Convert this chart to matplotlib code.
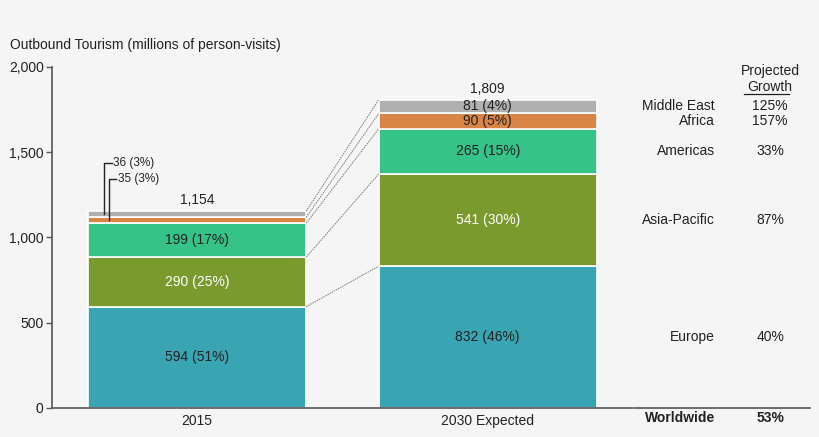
import matplotlib.pyplot as plt
from matplotlib.lines import Line2D
import numpy as np

plt.rcParams['font.family'] = ['Liberation Sans', 'DejaVu Sans']

regions = ['Europe', 'Asia-Pacific', 'Americas', 'Africa', 'Middle East']
years = ['2015', '2030 Expected']
v2015 = [594, 290, 199, 35, 36]
v2030 = [832, 541, 265, 90, 81]
totals = [1154, 1809]
growth = [40, 87, 33, 157, 125]
worldwide = 53
colors = ['#3aa5b2', '#7a9a2e', '#35c387', '#d98545', '#b0b0b0']
label_colors = ['#222222', 'white', '#222222', '#222222', '#222222']

bg = '#f5f5f5'
txt = '#222222'

fig = plt.figure(figsize=(8.2, 4.37), dpi=100, facecolor=bg)
ax = fig.add_axes([0.0634, 0.0664, 0.7085, 0.7803], facecolor=bg)

x = np.arange(2)
width = 0.75
data = np.array([v2015, v2030])
bottoms = np.zeros(2)
tops = []
for i, reg in enumerate(regions):
    vals = data[:, i]
    ax.bar(x, vals, width, bottom=bottoms, color=colors[i], edgecolor='white', linewidth=1.2)
    for j in range(2):
        share = round(vals[j] / totals[j] * 100)
        if j == 0 and i >= 3:
            continue
        ax.text(x[j], bottoms[j] + vals[j] / 2, f'{vals[j]} ({share}%)', ha='center', va='center',
                fontsize=10, color=label_colors[i])
    bottoms = bottoms + vals
    tops.append(bottoms.copy())

# dotted connectors between the bars
for t in tops:
    ax.plot([x[0] + width / 2, x[1] - width / 2], [t[0], t[1]], color='#777777', lw=0.7,
            linestyle=(0, (1.5, 1)), clip_on=False)

# totals
for j in range(2):
    ax.text(x[j], totals[j] + 22, f'{totals[j]:,}', ha='center', va='bottom', fontsize=10, color=txt)

# leader labels for the small 2015 segments
lead_x = [-0.303, -0.32]
lead_ty = [1343, 1437]
for k, i in enumerate([3, 4]):
    yc = tops[i][0] - v2015[i] / 2
    ax.plot([lead_x[k], lead_x[k], lead_x[k] + 0.025], [yc, lead_ty[k], lead_ty[k]],
            color='#222222', lw=1, clip_on=False)
    share = round(v2015[i] / totals[0] * 100)
    ax.text(lead_x[k] + 0.03, lead_ty[k], f'{v2015[i]} ({share}%)', ha='left', va='center',
            fontsize=8.5, color=txt)

# growth table on the right
tr = ax.get_yaxis_transform()
for i, reg in enumerate(regions):
    yc = tops[i][1] - v2030[i] / 2
    ax.text(1.141, yc, reg, transform=tr, ha='right', va='center', fontsize=10, color=txt, clip_on=False)
    ax.text(1.236, yc, f'{growth[i]}%', transform=tr, ha='center', va='center', fontsize=10,
            color=txt, clip_on=False)
ax.text(1.141, -0.028, 'Worldwide', transform=ax.transAxes, ha='right', va='center', fontsize=10,
        fontweight='bold', color=txt)
ax.text(1.236, -0.028, f'{worldwide}%', transform=ax.transAxes, ha='center', va='center', fontsize=10,
        fontweight='bold', color=txt)
ax.text(1.236, 0.988, 'Projected', transform=ax.transAxes, ha='center', va='center', fontsize=10, color=txt)
ax.text(1.236, 0.941, 'Growth', transform=ax.transAxes, ha='center', va='center', fontsize=10, color=txt)
fig.add_artist(Line2D([0.907, 0.962], [0.784, 0.784], color=txt, lw=0.9))
fig.add_artist(Line2D([0.774, 0.988], [0.0664, 0.0664], color='#555555', lw=1.2))

fig.text(0.012, 0.897, 'Outbound Tourism (millions of person-visits)', fontsize=10, color=txt,
         ha='left', va='center')

ax.set_xlim(-0.5, 1.5)
ax.set_ylim(0, 2000)
ax.set_xticks(x)
ax.set_xticklabels(years)
ax.set_yticks([0, 500, 1000, 1500, 2000])
ax.set_yticklabels(['0', '500', '1,000', '1,500', '2,000'])
ax.tick_params(axis='y', length=4, width=1, color='#555555', labelsize=10, labelcolor=txt, pad=2)
ax.tick_params(axis='x', length=0, labelsize=10, labelcolor=txt, pad=4)
for s in ['top', 'right']:
    ax.spines[s].set_visible(False)
for s in ['left', 'bottom']:
    ax.spines[s].set_color('#555555')
    ax.spines[s].set_linewidth(1.2)

fig.savefig('out.png', dpi=100, facecolor=bg)
